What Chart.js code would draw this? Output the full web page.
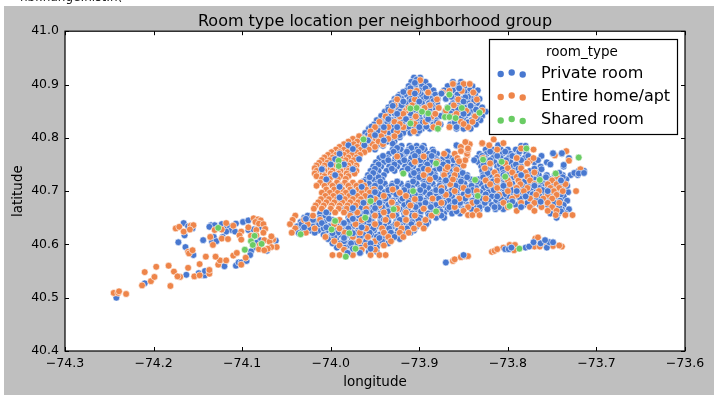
<!DOCTYPE html>
<html>
<head>
<meta charset="utf-8">
<title>Room type location per neighborhood group</title>
<script src="https://cdn.jsdelivr.net/npm/chart.js@4/dist/chart.umd.min.js"></script>
<style>
  html, body { margin: 0; padding: 0; background: #fff; }
  canvas { display: block; }
</style>
</head>
<body>
<canvas id="rooms" width="714" height="406"></canvas>
<script>
// Each row is [latitude, longitude, longitude, ...]
const xTicks = [-74.3, -74.2, -74.1, -74.0, -73.9, -73.8, -73.7, -73.6];
const yTicks = [40.4, 40.5, 40.6, 40.7, 40.8, 40.9, 41.0];
const roomTypes = ['Private room', 'Entire home/apt', 'Shared room'];

// Staten Island
const privateIsland = [
  [40.500,-74.242],[40.527,-74.210],[40.543,-74.163],[40.546,-74.149],[40.542,-74.144,-74.142],[40.550,-74.142,-74.137],
  [40.559,-74.120],[40.560,-74.107],[40.566,-74.104,-74.101],[40.569,-74.095],[40.604,-74.172],[40.595,-74.164],
  [40.580,-74.155],[40.617,-74.165],[40.640,-74.166],[40.634,-74.161],[40.630,-74.156],[40.608,-74.144,-74.080],
  [40.636,-74.135,-74.131],[40.633,-74.137],[40.638,-74.123],[40.631,-74.118],[40.634,-74.114],[40.639,-74.107],
  [40.627,-74.112,-74.093],[40.624,-74.108,-74.118],[40.614,-74.132,-74.122],[40.605,-74.134],[40.606,-74.129],
  [40.642,-74.099],[40.645,-74.093],[40.628,-74.087],[40.632,-74.081],[40.603,-74.086,-74.084],[40.613,-74.067],
  [40.607,-74.062],[40.588,-74.072],[40.594,-74.087],[40.587,-74.090],[40.580,-74.091]
];
const entireIsland = [
  [40.509,-74.245,-74.240],[40.512,-74.239],[40.507,-74.231],[40.523,-74.213],[40.531,-74.203],[40.539,-74.199,-74.170],
  [40.548,-74.210],[40.558,-74.197],[40.560,-74.183],[40.522,-74.181],[40.549,-74.177],[40.540,-74.173,-74.154],
  [40.556,-74.161],[40.563,-74.148],[40.542,-74.148],[40.545,-74.137],[40.552,-74.137],[40.562,-74.127,-74.101],
  [40.570,-74.125,-74.118],[40.577,-74.130,-74.141],[40.579,-74.110],[40.584,-74.106],[40.575,-74.096],
  [40.586,-74.161],[40.583,-74.160],[40.589,-74.156],[40.630,-74.175],[40.633,-74.171],[40.635,-74.158,-74.110],
  [40.636,-74.155],[40.624,-74.166,-74.101],[40.628,-74.159,-74.123],[40.614,-74.136],[40.599,-74.133,-74.080],
  [40.627,-74.131,-74.084],[40.611,-74.123],[40.610,-74.116],[40.640,-74.118],[40.617,-74.103,-74.084],
  [40.609,-74.101,-74.065],[40.632,-74.093],[40.649,-74.087],[40.647,-74.082],[40.645,-74.079],[40.642,-74.085],
  [40.639,-74.081],[40.638,-74.076],[40.629,-74.074],[40.622,-74.076],[40.616,-74.090],[40.608,-74.075],[40.605,-74.069],
  [40.595,-74.061,-74.067],[40.592,-74.071],[40.591,-74.081],[40.589,-74.075],[40.615,-74.067]
];
const sharedIsland = [[40.631,-74.127],[40.616,-74.086],[40.606,-74.090],[40.601,-74.078],[40.590,-74.097],[40.599,-74.088]];

// Blue underlay across the city
const privateBack = [
  [40.913,-73.906,-73.899],[40.905,-73.909,-73.901,-73.893,-73.862,-73.853],
  [40.897,-73.912,-73.905,-73.897,-73.889,-73.868,-73.858,-73.849,-73.840],
  [40.889,-73.914,-73.907,-73.899,-73.891,-73.884,-73.872,-73.862,-73.853,-73.843,-73.834],
  [40.881,-73.922,-73.915,-73.906,-73.898,-73.889,-73.882,-73.866,-73.857,-73.846,-73.837],
  [40.873,-73.928,-73.920,-73.911,-73.903,-73.895,-73.887,-73.879,-73.870,-73.860,-73.851,-73.841,-73.832],
  [40.865,-73.931,-73.923,-73.914,-73.906,-73.897,-73.889,-73.880,-73.862,-73.853,-73.844,-73.835],
  [40.857,-73.935,-73.926,-73.918,-73.909,-73.901,-73.892,-73.884,-73.868,-73.858,-73.849,-73.839,-73.829],
  [40.849,-73.939,-73.930,-73.922,-73.913,-73.904,-73.896,-73.888,-73.871,-73.862,-73.852,-73.842,-73.833,-73.825],
  [40.841,-73.943,-73.935,-73.926,-73.918,-73.909,-73.900,-73.892,-73.884,-73.876,-73.868,-73.857,-73.848,-73.838,-73.829],
  [40.833,-73.948,-73.940,-73.931,-73.923,-73.914,-73.906,-73.898,-73.889,-73.881,-73.860,-73.850,-73.841,-73.831],
  [40.825,-73.951,-73.943,-73.935,-73.926,-73.918,-73.910,-73.902,-73.893,-73.884,-73.876,-73.865,-73.855,-73.846,-73.836],
  [40.817,-73.957,-73.948,-73.940,-73.931,-73.922,-73.914,-73.906,-73.897,-73.888,-73.879,-73.858,-73.850,-73.842],
  [40.809,-73.961,-73.952,-73.944,-73.935,-73.927,-73.918,-73.910,-73.902],
  [40.801,-73.965,-73.956,-73.947,-73.939,-73.930,-73.922],
  [40.793,-73.962,-73.953,-73.944,-73.936,-73.928],
  [40.785,-73.957,-73.948,-73.941,-73.920,-73.911,-73.903,-73.895,-73.785,-73.780,-73.858],
  [40.778,-73.958,-73.950,-73.930,-73.921,-73.912,-73.903,-73.894,-73.885,-73.825,-73.817,-73.808,-73.800,-73.791,-73.783],
  [40.770,-73.934,-73.925,-73.916,-73.907,-73.898,-73.889,-73.880,-73.871,-73.832,-73.824,-73.815,-73.806,-73.797,-73.788,-73.779,-73.749,-73.739],
  [40.762,-73.945,-73.936,-73.927,-73.918,-73.909,-73.900,-73.891,-73.882,-73.873,-73.864,-73.835,-73.826,-73.817,-73.808,-73.799,-73.790,-73.781,-73.772,-73.731],
  [40.754,-73.949,-73.940,-73.931,-73.922,-73.913,-73.904,-73.895,-73.886,-73.877,-73.868,-73.859,-73.833,-73.824,-73.815,-73.806,-73.797,-73.788,-73.770,-73.756],
  [40.746,-73.952,-73.943,-73.934,-73.925,-73.916,-73.907,-73.898,-73.889,-73.880,-73.871,-73.862,-73.853,-73.830,-73.821,-73.812,-73.803,-73.794,-73.785,-73.763,-73.737],
  [40.738,-73.955,-73.946,-73.937,-73.928,-73.919,-73.910,-73.901,-73.892,-73.883,-73.874,-73.865,-73.856,-73.829,-73.820,-73.811,-73.802,-73.793,-73.784,-73.775,-73.720,-73.714],
  [40.730,-73.958,-73.949,-73.940,-73.909,-73.900,-73.891,-73.882,-73.873,-73.864,-73.855,-73.846,-73.828,-73.819,-73.810,-73.801,-73.792,-73.783,-73.774,-73.765,-73.756,-73.747,-73.738,-73.729,-73.721],
  [40.722,-73.960,-73.951,-73.942,-73.905,-73.896,-73.887,-73.878,-73.869,-73.860,-73.851,-73.842,-73.833,-73.824,-73.815,-73.806,-73.797,-73.788,-73.779,-73.770,-73.761,-73.752,-73.743,-73.734],
  [40.714,-73.975,-73.966,-73.957,-73.948,-73.939,-73.930,-73.921,-73.912,-73.903,-73.894,-73.885,-73.876,-73.867,-73.858,-73.849,-73.840,-73.831,-73.822,-73.813,-73.804,-73.795,-73.786,-73.777,-73.768,-73.759,-73.750,-73.741],
  [40.706,-73.971,-73.962,-73.953,-73.944,-73.935,-73.926,-73.917,-73.908,-73.899,-73.890,-73.881,-73.872,-73.863,-73.854,-73.845,-73.836,-73.827,-73.818,-73.809,-73.800,-73.791,-73.782,-73.773,-73.764,-73.755,-73.746,-73.737],
  [40.698,-73.966,-73.957,-73.948,-73.939,-73.930,-73.921,-73.912,-73.903,-73.894,-73.885,-73.876,-73.867,-73.858,-73.849,-73.840,-73.831,-73.822,-73.813,-73.804,-73.795,-73.786,-73.777,-73.768,-73.759,-73.750,-73.741,-73.732],
  [40.690,-73.971,-73.962,-73.953,-73.944,-73.935,-73.926,-73.917,-73.908,-73.899,-73.890,-73.881,-73.872,-73.863,-73.854,-73.845,-73.836,-73.827,-73.818,-73.809,-73.800,-73.791,-73.782,-73.773,-73.764,-73.755,-73.746,-73.737],
  [40.682,-73.975,-73.966,-73.957,-73.948,-73.939,-73.930,-73.921,-73.912,-73.903,-73.894,-73.885,-73.876,-73.867,-73.858,-73.849,-73.840,-73.831,-73.822,-73.813,-73.804,-73.795,-73.786,-73.777,-73.768,-73.759,-73.750,-73.741,-73.733],
  [40.674,-73.980,-73.971,-73.962,-73.953,-73.944,-73.935,-73.926,-73.917,-73.908,-73.899,-73.890,-73.881,-73.872,-73.863,-73.854,-73.845,-73.836,-73.827,-73.818,-73.809,-73.800,-73.791,-73.782,-73.773,-73.764,-73.755,-73.746,-73.737],
  [40.666,-73.985,-73.976,-73.967,-73.958,-73.949,-73.940,-73.931,-73.922,-73.913,-73.904,-73.895,-73.886,-73.877,-73.868,-73.859,-73.850,-73.841,-73.832,-73.823,-73.814,-73.805,-73.748,-73.739,-73.731],
  [40.658,-74.012,-74.003,-73.980,-73.971,-73.962,-73.953,-73.944,-73.935,-73.926,-73.917,-73.908,-73.899,-73.890,-73.881,-73.872,-73.863,-73.854,-73.752,-73.743,-73.735],
  [40.650,-74.030,-74.021,-74.012,-73.980,-73.971,-73.962,-73.953,-73.944,-73.935,-73.926,-73.917,-73.908,-73.899,-73.890,-73.881,-73.872,-73.745],
  [40.642,-74.034,-74.025,-74.016,-74.007,-73.998,-73.989,-73.980,-73.971,-73.962,-73.953,-73.944,-73.935,-73.926,-73.917,-73.908,-73.899,-73.890],
  [40.634,-74.038,-74.029,-74.020,-74.011,-74.002,-73.993,-73.984,-73.975,-73.966,-73.957,-73.948,-73.939,-73.930,-73.921,-73.912,-73.903,-73.894],
  [40.626,-74.032,-74.023,-74.014,-74.005,-73.996,-73.987,-73.978,-73.969,-73.960,-73.951,-73.942,-73.933,-73.924,-73.915,-73.906],
  [40.618,-74.008,-73.999,-73.990,-73.981,-73.972,-73.963,-73.954,-73.945,-73.936,-73.927,-73.918],
  [40.610,-74.003,-73.994,-73.985,-73.976,-73.967,-73.958,-73.949,-73.940,-73.931,-73.922],
  [40.602,-73.998,-73.989,-73.980,-73.971,-73.962,-73.953,-73.944,-73.935],
  [40.594,-73.993,-73.984,-73.975,-73.966,-73.957,-73.948],
  [40.586,-73.975,-73.966,-73.957,-73.948]
];

// Orange clusters: lower Manhattan, Brooklyn, Queens, upper boroughs
const entireHome = [
  [40.908,-73.899],[40.888,-73.903,-73.866,-73.852],[40.901,-73.862,-73.850,-73.843],
  [40.885,-73.910,-73.890,-73.874,-73.839],[40.872,-73.925,-73.905,-73.880,-73.856,-73.835],
  [40.861,-73.928,-73.908,-73.888,-73.861,-73.842],[40.851,-73.932,-73.915,-73.898,-73.870,-73.847,-73.829],
  [40.840,-73.938,-73.922,-73.904,-73.886,-73.862,-73.837],[40.830,-73.945,-73.928,-73.910,-73.893,-73.853,-73.840],
  [40.820,-73.950,-73.935,-73.918,-73.884,-73.866,-73.845],
  [40.856,-73.912,-73.894,-73.878],[40.845,-73.918,-73.882,-73.858],[40.826,-73.922,-73.905,-73.878,-73.850],
  [40.812,-73.955,-73.940,-73.925,-73.906],[40.803,-73.968,-73.955,-73.943,-73.928],
  [40.798,-73.975,-73.962,-73.949,-73.935],[40.793,-73.980,-73.970,-73.958,-73.946],
  [40.788,-73.985,-73.974,-73.964,-73.953,-73.941],[40.783,-73.990,-73.980,-73.970,-73.960,-73.950],
  [40.778,-73.994,-73.985,-73.975,-73.966,-73.957],[40.773,-73.999,-73.990,-73.981,-73.971,-73.962],
  [40.768,-74.003,-73.994,-73.985,-73.976,-73.967],[40.763,-74.007,-73.998,-73.989,-73.980,-73.971],
  [40.758,-74.010,-74.001,-73.992,-73.983,-73.974],[40.753,-74.013,-74.004,-73.995,-73.986,-73.977],
  [40.748,-74.016,-74.007,-73.998,-73.989,-73.980,-73.971],[40.743,-74.018,-74.009,-74.000,-73.991,-73.982,-73.973],
  [40.738,-74.016,-74.007,-73.998,-73.989,-73.980,-73.971],[40.733,-74.018,-74.009,-74.000,-73.991,-73.982,-73.973],
  [40.728,-74.016,-74.007,-73.998,-73.989,-73.980],[40.723,-74.010,-74.001,-73.992,-73.983],
  [40.716,-74.012,-74.002,-73.993,-73.984,-73.975,-73.966],[40.710,-74.016,-74.007,-73.998,-73.989,-73.980,-73.971,-73.962],
  [40.703,-74.005,-73.996,-73.987,-73.978,-73.969,-73.960,-73.951,-73.930],
  [40.697,-74.010,-74.001,-73.992,-73.983,-73.974,-73.965,-73.956,-73.922],
  [40.691,-74.006,-73.997,-73.988,-73.979,-73.970,-73.961,-73.940,-73.915],
  [40.685,-74.011,-74.002,-73.993,-73.984,-73.975,-73.966,-73.950,-73.905],
  [40.679,-74.014,-74.005,-73.996,-73.987,-73.978,-73.969,-73.957,-73.931],
  [40.673,-74.017,-74.008,-73.999,-73.990,-73.981,-73.972,-73.945,-73.910],
  [40.667,-74.019,-74.010,-74.000,-73.991,-73.982,-73.960,-73.925,-73.895],
  [40.660,-73.995,-73.985,-73.970,-73.940,-73.915,-73.880],
  [40.654,-74.040,-74.020,-73.978,-73.950,-73.930,-73.905,-73.886],
  [40.646,-74.043,-74.030,-74.012,-73.990,-73.965,-73.938,-73.915,-73.893],
  [40.638,-74.046,-74.026,-73.996,-73.972,-73.950,-73.925,-73.900],
  [40.630,-74.040,-74.018,-73.990,-73.960,-73.942,-73.920,-73.906,-73.895],
  [40.622,-74.044,-74.028,-73.984,-73.967,-73.940,-73.922,-73.912],
  [40.614,-74.006,-73.975,-73.958,-73.935,-73.918],
  [40.606,-73.996,-73.968,-73.950,-73.932],[40.598,-73.990,-73.960,-73.940],
  [40.590,-73.985,-73.965,-73.950],[40.580,-73.998,-73.990,-73.975,-73.955,-73.945,-73.938],
  // Queens
  [40.797,-73.816],[40.792,-73.847],[40.789,-73.829],[40.788,-73.843],[40.780,-73.785],[40.778,-73.771,-73.812],
  [40.767,-73.846,-73.747],[40.775,-73.734],[40.757,-73.731,-73.775],[40.741,-73.718],[40.700,-73.723],
  [40.762,-73.828,-73.771,-73.790],[40.752,-73.820,-73.778,-73.803],[40.743,-73.826,-73.800,-73.785],
  [40.735,-73.815,-73.795,-73.780,-73.770],[40.727,-73.812,-73.803,-73.790,-73.778,-73.745],
  [40.720,-73.825,-73.812,-73.800,-73.788,-73.775,-73.750,-73.740],[40.713,-73.865,-73.820,-73.798,-73.786,-73.770,-73.755,-73.745,-73.735],
  [40.706,-73.875,-73.850,-73.812,-73.790,-73.778,-73.752,-73.742],[40.700,-73.860,-73.835,-73.800,-73.782,-73.765,-73.748,-73.738],
  [40.693,-73.870,-73.845,-73.810,-73.790,-73.768,-73.755,-73.745],[40.686,-73.885,-73.855,-73.825,-73.795,-73.775,-73.760,-73.750],
  [40.678,-73.875,-73.840,-73.805,-73.785,-73.770,-73.755,-73.742],[40.670,-73.860,-73.845,-73.800,-73.775,-73.762,-73.750],
  [40.663,-73.850,-73.835,-73.790,-73.770,-73.755,-73.745],[40.655,-73.845,-73.840,-73.832,-73.746,-73.735,-73.727],
  [40.740,-73.890,-73.870,-73.858],[40.730,-73.895,-73.872,-73.860],[40.722,-73.888,-73.862],[40.755,-73.905,-73.880],[40.765,-73.925,-73.895],
  // River edge
  [40.790,-73.805,-73.829],[40.745,-73.868],[40.748,-73.850],[40.758,-73.848],[40.770,-73.872,-73.860,-73.846],
  [40.783,-73.853],[40.777,-73.845],[40.762,-73.857],[40.775,-73.853],[40.756,-73.855],[40.792,-73.848],[40.780,-73.845],[40.786,-73.821],
  // Rockaways
  [40.586,-73.818],[40.588,-73.815],[40.591,-73.812],[40.594,-73.805],[40.599,-73.798,-73.792,-73.756],[40.589,-73.793],
  [40.611,-73.769],[40.613,-73.766],[40.596,-73.770,-73.764,-73.739],[40.597,-73.749],[40.598,-73.742],
  [40.569,-73.862],[40.572,-73.860],[40.576,-73.853],[40.578,-73.848,-73.845]
];

// Second blue pass, off the rows of the underlay
const privateMid = [
  [40.909,-73.903],[40.893,-73.910,-73.893],[40.899,-73.854],[40.886,-73.918,-73.901,-73.849],[40.877,-73.924,-73.908,-73.892,-73.864,-73.845],
  [40.869,-73.927,-73.909,-73.884,-73.856,-73.838],[40.861,-73.920,-73.902,-73.886,-73.864],[40.853,-73.935,-73.906,-73.889,-73.856,-73.836],
  [40.846,-73.928,-73.910,-73.892,-73.865,-73.845],[40.837,-73.938,-73.921,-73.903,-73.887,-73.853,-73.835],[40.829,-73.936,-73.919,-73.896,-73.880,-73.860,-73.845],
  [40.821,-73.954,-73.930,-73.912,-73.892],[40.813,-73.946,-73.929,-73.900],[40.805,-73.958,-73.941,-73.922],[40.797,-73.950,-73.932],
  [40.789,-73.945,-73.930],[40.786,-73.858,-73.811],[40.781,-73.909,-73.897,-73.925],[40.774,-73.929,-73.914,-73.901,-73.884,-73.868,-73.820,-73.803,-73.787],
  [40.766,-73.941,-73.921,-73.905,-73.886,-73.869,-73.829,-73.812,-73.795,-73.777,-73.762],
  [40.758,-73.935,-73.917,-73.899,-73.880,-73.861,-73.838,-73.820,-73.802,-73.785,-73.766],
  [40.750,-73.946,-73.928,-73.909,-73.891,-73.873,-73.856,-73.827,-73.809,-73.791,-73.752],
  [40.742,-73.950,-73.931,-73.913,-73.895,-73.877,-73.859,-73.824,-73.806,-73.788,-73.770],
  [40.734,-73.952,-73.906,-73.887,-73.869,-73.851,-73.823,-73.805,-73.787,-73.768,-73.742,-73.725],
  [40.726,-73.956,-73.946,-73.900,-73.882,-73.864,-73.846,-73.828,-73.810,-73.793,-73.775,-73.757,-73.738],
  [40.718,-73.963,-73.944,-73.925,-73.907,-73.889,-73.871,-73.853,-73.835,-73.817,-73.799,-73.781,-73.763,-73.745],
  [40.710,-73.950,-73.931,-73.913,-73.895,-73.877,-73.859,-73.841,-73.823,-73.784,-73.750,-73.733],
  [40.702,-73.953,-73.935,-73.917,-73.899,-73.881,-73.863,-73.840,-73.816,-73.795,-73.761,-73.742],
  [40.694,-73.968,-73.945,-73.926,-73.905,-73.888,-73.866,-73.850,-73.825,-73.804,-73.772,-73.740],
  [40.686,-73.958,-73.938,-73.919,-73.899,-73.878,-73.848,-73.830,-73.808,-73.786,-73.752],
  [40.678,-73.950,-73.931,-73.912,-73.893,-73.872,-73.854,-73.826,-73.798,-73.778,-73.747],
  [40.670,-73.965,-73.942,-73.925,-73.904,-73.887,-73.866,-73.832,-73.810,-73.742],
  [40.662,-73.977,-73.952,-73.935,-73.916,-73.898,-73.876,-73.858,-73.740],
  [40.654,-74.026,-74.006,-73.968,-73.945,-73.926,-73.908,-73.889,-73.875],
  [40.646,-74.020,-73.998,-73.979,-73.957,-73.940,-73.922,-73.901],
  [40.638,-74.033,-74.013,-73.986,-73.966,-73.945,-73.927,-73.909,-73.892],
  [40.630,-74.025,-74.008,-73.980,-73.952,-73.934,-73.914],
  [40.622,-74.018,-73.992,-73.970,-73.956,-73.932,-73.910],
  [40.614,-73.996,-73.967,-73.948,-73.928],[40.606,-73.985,-73.960,-73.942],[40.598,-73.978,-73.952],[40.590,-73.968]
];

// Blue points sitting above the orange ones
const privateFront = [
  [40.903,-73.905],[40.893,-73.855],[40.883,-73.905,-73.875],[40.876,-73.848],[40.868,-73.918,-73.900,-73.850],
  [40.860,-73.930,-73.842],[40.845,-73.925,-73.850],[40.835,-73.935,-73.915,-73.890],[40.820,-73.940,-73.925,-73.858,-73.900],
  [40.805,-73.950],[40.795,-73.958,-73.940],[40.786,-73.980,-73.962],[40.779,-73.975],[40.770,-73.990],
  [40.760,-73.968,-73.995],[40.750,-74.000,-73.985],[40.741,-73.975,-74.010],[40.730,-73.995],[40.722,-74.005],
  [40.708,-73.990,-73.965],[40.698,-73.975,-73.950],[40.688,-73.990,-73.955],[40.678,-73.963,-73.945],
  [40.668,-73.975,-73.950],[40.660,-74.005,-73.960],[40.648,-74.028,-74.002,-73.975],[40.640,-74.010,-73.985],
  [40.632,-74.030,-74.005,-73.965],[40.621,-74.036,-73.998,-73.975],[40.612,-73.985,-73.945],[40.602,-73.977,-73.955],
  [40.592,-73.975,-73.955],[40.584,-73.981,-73.967],[40.566,-73.870],[40.580,-73.850],[40.591,-73.803,-73.799],
  [40.594,-73.796,-73.780,-73.756],[40.596,-73.776],[40.604,-73.771,-73.753,-73.749],[40.602,-73.763],[40.608,-73.758],
  [40.710,-73.805,-73.770],[40.700,-73.790,-73.755],[40.690,-73.780,-73.812],[40.680,-73.795,-73.763],[40.670,-73.815,-73.785],
  [40.730,-73.805,-73.785],[40.741,-73.762],[40.749,-73.737],[40.771,-73.749,-73.739],[40.733,-73.720],[40.734,-73.714],
  [40.720,-73.870,-73.740],[40.700,-73.875,-73.845],[40.680,-73.860,-73.835]
];

const sharedRoom = [
  [40.881,-73.866],[40.856,-73.868,-73.852,-73.903],[40.839,-73.871,-73.866],[40.837,-73.859],[40.847,-73.832],[40.855,-73.910],
  [40.846,-73.890],[40.849,-73.897],[40.817,-73.879],[40.827,-73.910],[40.797,-73.963],[40.757,-73.991],[40.747,-73.991],
  [40.644,-73.995],[40.628,-73.999],[40.619,-74.034],[40.621,-73.979],[40.650,-73.961],[40.592,-73.972],[40.577,-73.983],
  [40.662,-73.881],[40.666,-73.929],[40.700,-73.907],[40.681,-73.955],[40.733,-73.918,-73.746],[40.752,-73.881],
  [40.759,-73.828],[40.755,-73.807],[40.721,-73.837,-73.764],[40.691,-73.834],[40.672,-73.798],[40.592,-73.787],
  [40.780,-73.779],[40.763,-73.720],[40.727,-73.803]
];

const toPoints = rows => rows.flatMap(([lat, ...lons]) => lons.map(lon => ({ x: lon, y: lat })));

const COLORS = { 'Private room': '#4878d0', 'Entire home/apt': '#ee854a', 'Shared room': '#6acc64' };
const FONT = '"DejaVu Sans"';

const layer = (type, rows) => ({
  label: type,
  data: toPoints(rows),
  backgroundColor: COLORS[type],
  borderColor: 'rgba(255,255,255,0.6)',
  borderWidth: 1,
  pointRadius: 3.4,
  pointHoverRadius: 3.4,
});

// ── Inline plugin: figure background, inward ticks on all four sides, legend ─────
const figurePlugin = {
  id: 'figure',
  beforeDraw(chart) {
    const { ctx, chartArea: A } = chart;
    ctx.save();
    ctx.fillStyle = '#bfbfbf';
    ctx.fillRect(4, 6, 710, 389);
    ctx.fillStyle = '#fff';
    ctx.fillRect(A.left, A.top, A.right - A.left, A.bottom - A.top);
    // scrap of the notebook cell above the figure
    ctx.fillStyle = '#222';
    ctx.font = `12px ${FONT}`;
    ctx.textBaseline = 'alphabetic';
    ctx.fillText('nbr.hange.hist.n(', 20, 1);
    ctx.restore();
  },
  afterDraw(chart) {
    const { ctx, chartArea: A, scales } = chart;
    ctx.save();
    ctx.strokeStyle = '#000';
    ctx.lineWidth = 1;
    ctx.beginPath();
    for (const v of xTicks) {
      const x = Math.round(scales.x.getPixelForValue(v)) + 0.5;
      ctx.moveTo(x, A.top); ctx.lineTo(x, A.top + 4);
      ctx.moveTo(x, A.bottom); ctx.lineTo(x, A.bottom - 4);
    }
    for (const v of yTicks) {
      const y = Math.round(scales.y.getPixelForValue(v)) + 0.5;
      ctx.moveTo(A.left, y); ctx.lineTo(A.left + 4, y);
      ctx.moveTo(A.right, y); ctx.lineTo(A.right - 4, y);
    }
    ctx.stroke();
    ctx.lineWidth = 1.2;
    ctx.strokeRect(A.left, A.top, A.right - A.left, A.bottom - A.top);

    // legend box
    ctx.fillStyle = '#fff';
    ctx.fillRect(489.5, 39.5, 188, 95);
    ctx.strokeRect(489.5, 39.5, 188, 95);
    ctx.fillStyle = '#000';
    ctx.textBaseline = 'middle';
    ctx.textAlign = 'center';
    ctx.font = `13.5px ${FONT}`;
    ctx.fillText('room_type', 582, 52);
    ctx.textAlign = 'left';
    ctx.font = `16px ${FONT}`;
    const rowY = [73.5, 96.5, 120];
    const wobble = [0.5, -1, 1];
    roomTypes.forEach((type, i) => {
      ctx.fillStyle = '#000';
      ctx.fillText(type, 541, rowY[i]);
      [500.7, 511.7, 522.7].forEach((x, j) => {
        ctx.beginPath();
        ctx.arc(x, rowY[i] + wobble[j], 3.2, 0, Math.PI * 2);
        ctx.fillStyle = COLORS[type];
        ctx.fill();
      });
    });
    ctx.restore();
  },
};

const axisLabel = v => Number(v).toFixed(1).replace('-', '\u2212');

new Chart(document.getElementById('rooms'), {
  type: 'scatter',
  plugins: [figurePlugin],
  data: {
    // Chart.js paints the first dataset last, so the top layer comes first
    datasets: [
      layer('Shared room', sharedRoom),
      layer('Shared room', sharedIsland),
      layer('Private room', privateFront),
      layer('Entire home/apt', entireHome),
      layer('Entire home/apt', entireIsland),
      layer('Private room', privateMid),
      layer('Private room', privateIsland),
      layer('Private room', privateBack),
    ],
  },
  options: {
    responsive: false,
    animation: false,
    layout: { padding: { left: 10, right: 29, top: 0, bottom: 11 } },
    plugins: {
      legend: { display: false },
      tooltip: { enabled: false },
      title: {
        display: true,
        fullSize: false,
        text: 'Room type location per neighborhood group',
        color: '#000',
        font: { family: FONT, size: 16, weight: 'normal' },
        padding: { top: 12, bottom: 0 },
      },
    },
    scales: {
      x: {
        type: 'linear',
        min: -74.3,
        max: -73.6,
        afterBuildTicks(scale) { scale.ticks = xTicks.map(value => ({ value })); },
        afterFit(scale) { scale.height = 44; },
        ticks: { color: '#000', font: { family: FONT, size: 12.5 }, padding: 5, maxRotation: 0, callback: axisLabel },
        grid: { display: false, drawTicks: false },
        border: { display: false },
        title: { display: true, text: 'longitude', color: '#000', font: { family: FONT, size: 13.5 }, padding: { top: 4, bottom: 4 } },
      },
      y: {
        type: 'linear',
        min: 40.4,
        max: 41.0,
        afterBuildTicks(scale) { scale.ticks = yTicks.map(value => ({ value })); },
        afterFit(scale) { scale.width = 55; },
        ticks: { color: '#000', font: { family: FONT, size: 12.5 }, padding: 6, callback: axisLabel },
        grid: { display: false, drawTicks: false },
        border: { display: false },
        title: { display: true, text: 'latitude', color: '#000', font: { family: FONT, size: 13.5 }, padding: { top: 0, bottom: 0 } },
      },
    },
  },
});
</script>
</body>
</html>
